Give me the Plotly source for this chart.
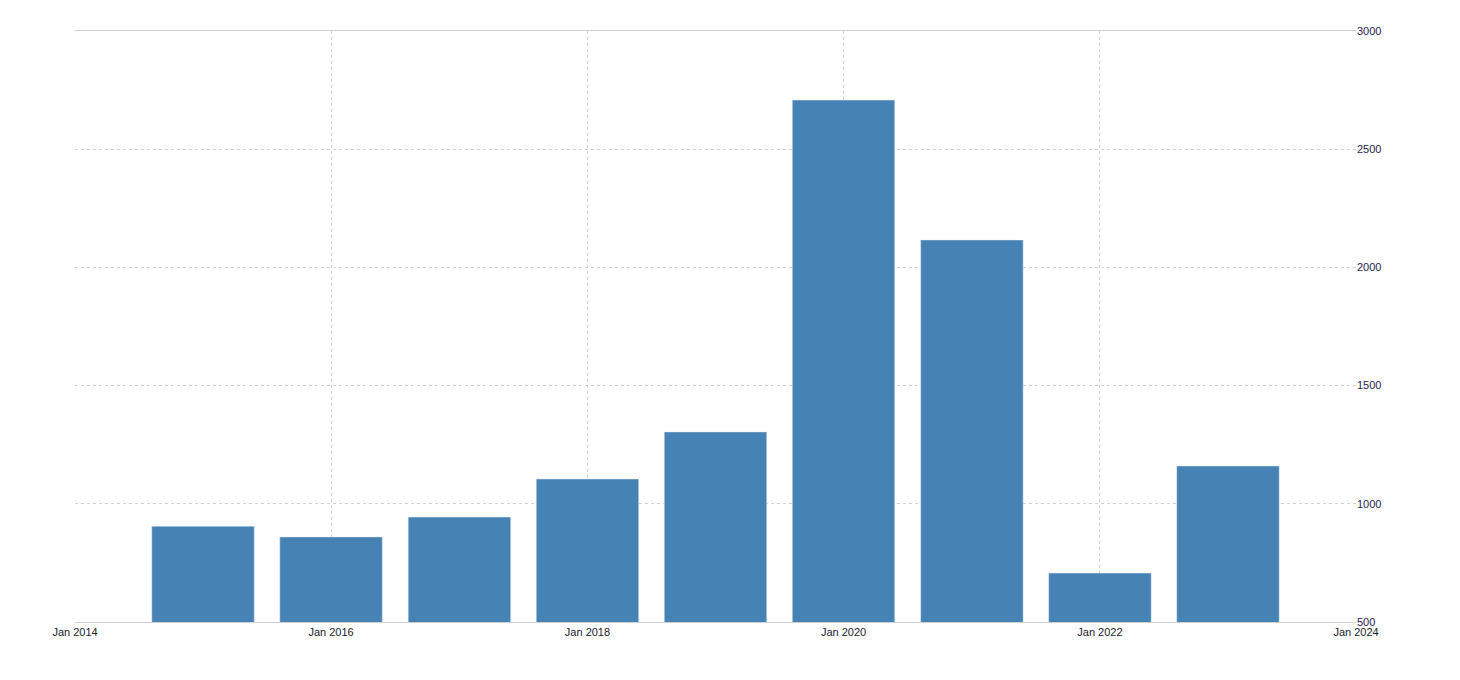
import plotly.graph_objects as go

dates = ["2015-01-01","2016-01-01","2017-01-01","2018-01-01","2019-01-01","2020-01-01","2021-01-01","2022-01-01","2023-01-01"]
values = [905, 860, 944, 1105, 1304, 2708, 2116, 707, 1160]
yticks = [500, 1000, 1500, 2000, 2500, 3000]
xticks = ["2014-01-01","2016-01-01","2018-01-01","2020-01-01","2022-01-01","2024-01-01"]
xlabels = ["Jan 2014","Jan 2016","Jan 2018","Jan 2020","Jan 2022","Jan 2024"]

fig = go.Figure(go.Bar(x=dates, y=values, marker_color="#4682b4",
                       width=0.8*365.25*86400000, base=0))
fig.update_layout(
    width=1460, height=680, margin=dict(l=67, r=112, t=23, b=66),
    plot_bgcolor="white", paper_bgcolor="white", showlegend=False,
    font=dict(family="Liberation Sans, Arial", size=11, color="#1a1a2e"),
)
fig.update_xaxes(range=["2014-01-01","2024-01-01"], tickvals=xticks, ticktext=xlabels,
                 showgrid=True, gridcolor="#d0d0d0", griddash="dot", gridwidth=1,
                 zeroline=False, ticks="", showline=True, linecolor="#d0d0d0",
                 mirror=True)
fig.update_yaxes(range=[500,3000], tickvals=yticks, side="right", showgrid=True,
                 gridcolor="#d0d0d0", griddash="dot", zeroline=False,
                 tickfont=dict(color="#2a1a50"), ticks="", showline=False)
fig.write_html("out.html")
